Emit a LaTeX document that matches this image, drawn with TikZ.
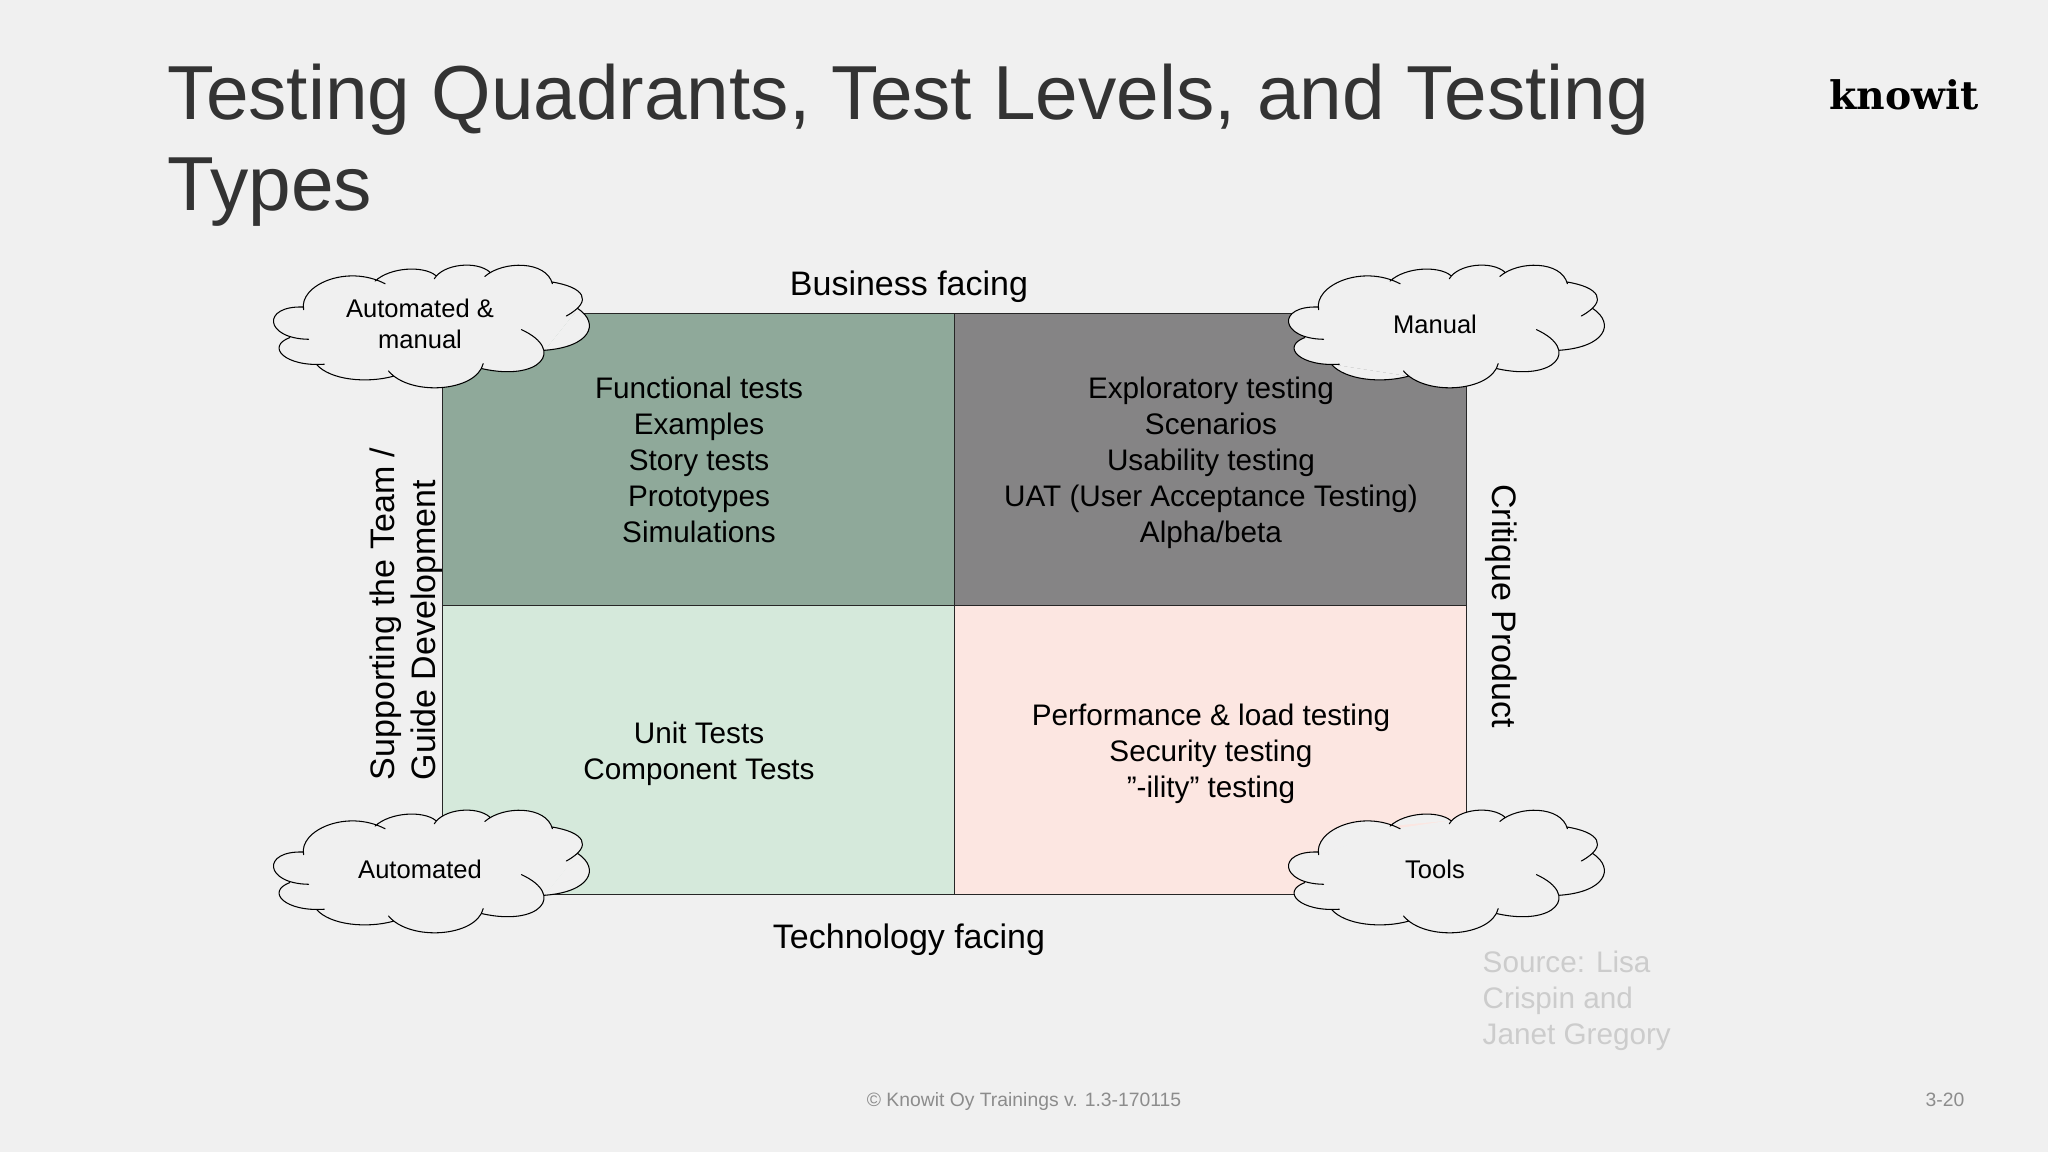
\documentclass[tikz,border=0pt]{standalone}
\usepackage{fontspec}
\setmainfont{Liberation Sans}
\newfontfamily\logofont{DejaVu Serif}
\definecolor{slidebg}{HTML}{F0F0F0}
\definecolor{darkgreen}{HTML}{8FA99A}
\definecolor{darkgrey}{HTML}{858485}
\definecolor{palegreen}{HTML}{D5E9DB}
\definecolor{palepink}{HTML}{FCE6E1}
\newcommand{\fsize}[2]{\fontsize{#1pt}{#2pt}\selectfont}
\tikzset{
  cell/.style={draw=black!85,line width=0.25pt},
  body/.style={align=center,inner sep=0pt,font=\fsize{8.45}{10.2}},
  axis/.style={align=center,inner sep=0pt,font=\fsize{9.67}{11.7}},
  cloudtext/.style={align=center,inner sep=0pt,font=\fsize{7.27}{8.9}},
  cloudy/.pic={
    \begin{scope}[x=0.003333cm,y=-0.003333cm,shift={(-540,-230)}]
      \fill[slidebg] (160,178) -- (400,98) -- (557,75) -- (720,65) -- (908,100) -- (985,175)
        -- (885,300) -- (695,355) -- (430,378) -- (198,342) -- (118,262) -- cycle;
      \draw[fill=slidebg,line width=0.3pt,line cap=round]
        (160,178) .. controls (145,105) and (290,40) .. (405,100)
        (375,92) .. controls (420,50) and (520,45) .. (557,75)
        (553,85) .. controls (580,40) and (680,30) .. (720,65)
        (705,78) .. controls (760,30) and (890,30) .. (908,100)
        (908,95) .. controls (1000,110) and (1035,150) .. (950,197)
        (985,175) .. controls (1052,220) and (1022,290) .. (885,300)
        (815,238) .. controls (950,300) and (870,395) .. (695,355)
        (700,340) .. controls (680,425) and (480,440) .. (415,362)
        (430,378) .. controls (350,400) and (240,390) .. (198,342)
        (222,342) .. controls (105,350) and (45,290) .. (118,262)
        (175,267) .. controls (42,265) and (32,165) .. (160,170);
    \end{scope}
    \node[cloudtext] at (-0.10,0.03) (-label) {#1};
  },
}
\begin{document}
\begin{tikzpicture}
  \useasboundingbox (0,0) rectangle (20.48,11.52);
  \fill[slidebg] (0,0) rectangle (20.48,11.52);
  % quadrants
  \draw[cell,fill=darkgreen] (4.425,5.47) rectangle (9.545,8.39);
  \draw[cell,fill=darkgrey] (9.545,5.47) rectangle (14.665,8.39);
  \draw[cell,fill=palegreen] (4.425,2.58) rectangle (9.545,5.47);
  \draw[cell,fill=palepink] (9.545,2.58) rectangle (14.665,5.47);
  \node[body] at (6.99,6.92) (funcs) {Functional tests\\Examples\\Story tests\\Prototypes\\Simulations};
  \node[body] at (12.11,6.89) (explore) {Exploratory testing\\Scenarios\\Usability testing\\UAT (User Acceptance Testing)\\Alpha/beta};
  \node[body] at (6.99,3.98) (unit) {Unit Tests\\Component Tests};
  \node[body] at (12.11,3.98) (perf) {Performance \& load testing\\Security testing\\”-ility” testing};
  % axis labels
  \node[axis] at (9.09,8.65) (business) {Business facing};
  \node[axis] at (9.09,2.12) (technology) {Technology facing};
  \node[axis,align=left,rotate=90] at (4.065,5.38) (team) {Supporting the Team /\\Guide Development};
  \node[axis,rotate=270] at (15.01,5.46) (critique) {Critique Product};
  % clouds
  \pic (automan) at (4.30,8.25) {cloudy={Automated \&\\manual}};
  \pic (manual) at (14.45,8.25) {cloudy={Manual}};
  \pic (auto) at (4.30,2.80) {cloudy={Automated}};
  \pic (tools) at (14.45,2.80) {cloudy={Tools}};
  % slide furniture
  \node[anchor=north west,align=left,inner sep=0pt,text=black!80,font=\fsize{21.79}{26}] at (1.67,10.89) (title) {Testing Quadrants, Test Levels, and Testing\\Types};
  \node[inner sep=0pt,font=\logofont\bfseries\fsize{11.2}{13}] at (19.04,10.57) (logo) {knowit};
  \node[anchor=west,align=left,inner sep=0pt,text=black!20,font=\fsize{8.45}{10.2}] at (14.82,1.51) (source) {Source: Lisa\\Crispin and\\Janet Gregory};
  \node[inner sep=0pt,text=black!45,font=\fsize{5.5}{7}] at (10.24,0.50) (copy) {© Knowit Oy Trainings v. 1.3-170115};
  \node[anchor=east,inner sep=0pt,text=black!45,font=\fsize{5.5}{7}] at (19.65,0.52) (page) {3-20};
\end{tikzpicture}
\end{document}
